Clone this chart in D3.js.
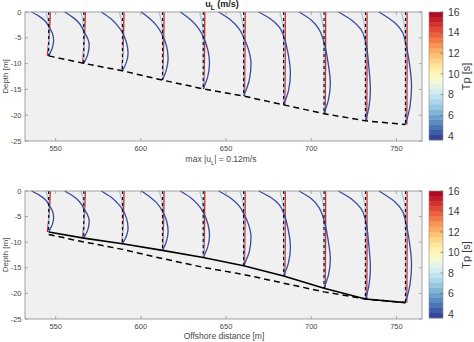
<!DOCTYPE html>
<html>
<head>
<meta charset="utf-8">
<script src="https://cdn.jsdelivr.net/npm/d3@7/dist/d3.min.js"></script>
<style>
  body { margin: 0; background: #fff; }
  svg { display: block; font-family: "Liberation Sans", Arial, sans-serif; }
</style>
</head>
<body>
<svg id="chart" width="474" height="342"></svg>
<script>
// Cross-shore stations (offshore distance, m)
const stations = [545.9, 566.5, 589.2, 612.7, 636.6, 660.3, 683.8, 707.5, 731.8, 755.3];
// Bed level at each station (m): initial profile and final profile
const bedInitial = [-8.5, -9.95, -11.4, -13.2, -14.9, -16.3, -18.0, -19.7, -21.1, -21.8];
const bedFinal = [-8.0, -9.2, -10.3, -11.6, -13.0, -14.6, -16.6, -19.0, -21.1, -21.8];

// Peak periods drawn at every station (s)
const tpValues = [15, 7, 4];

// Lagrangian velocity profiles: [fraction of local water depth, u_L (m/s)]
const uTp4 = [
  [[0, -0.076], [0.1, -0.042], [0.2, -0.017], [0.33, 0], [0.48, 0.016], [0.64, 0.022], [0.82, 0.016], [1, 0]],
  [[0, -0.085], [0.1, -0.05], [0.2, -0.024], [0.3, -0.008], [0.38, 0], [0.5, 0.016], [0.64, 0.024], [0.82, 0.018], [1, 0]],
  [[0, -0.094], [0.12, -0.05], [0.24, -0.02], [0.35, 0], [0.52, 0.018], [0.7, 0.025], [0.86, 0.017], [1, 0]],
  [[0, -0.094], [0.1, -0.056], [0.2, -0.026], [0.34, 0], [0.5, 0.018], [0.68, 0.025], [0.85, 0.017], [1, 0]],
  [[0, -0.102], [0.1, -0.056], [0.2, -0.024], [0.32, 0], [0.5, 0.021], [0.66, 0.028], [0.84, 0.02], [1, 0]],
  [[0, -0.111], [0.1, -0.055], [0.2, -0.02], [0.3, 0], [0.45, 0.022], [0.61, 0.033], [0.8, 0.026], [1, 0]],
  [[0, -0.111], [0.08, -0.055], [0.16, -0.02], [0.26, 0], [0.45, 0.02], [0.66, 0.03], [0.84, 0.022], [1, 0]],
  [[0, -0.111], [0.08, -0.056], [0.17, -0.022], [0.3, 0], [0.5, 0.018], [0.7, 0.028], [0.86, 0.02], [1, 0]],
  [[0, -0.12], [0.08, -0.058], [0.16, -0.02], [0.27, 0], [0.5, 0.015], [0.71, 0.022], [0.87, 0.016], [1, 0]],
  [[0, -0.118], [0.1, -0.045], [0.18, -0.013], [0.27, 0], [0.45, 0.017], [0.66, 0.027], [0.84, 0.02], [1, 0]]
];
const uTp7 = [
  [[0, -0.012], [0.12, -0.006], [0.25, -0.002], [0.35, 0], [1, 0]],
  [[0, -0.013], [0.12, -0.006], [0.25, -0.002], [0.35, 0], [1, 0]],
  [[0, -0.014], [0.1, -0.007], [0.22, -0.002], [0.32, 0], [1, 0]],
  [[0, -0.015], [0.1, -0.007], [0.2, -0.002], [0.3, 0], [1, 0]],
  [[0, -0.016], [0.1, -0.008], [0.2, -0.002], [0.28, 0], [1, 0]],
  [[0, -0.017], [0.08, -0.009], [0.18, -0.002], [0.26, 0], [1, 0]],
  [[0, -0.017], [0.08, -0.009], [0.16, -0.002], [0.24, 0], [1, 0]],
  [[0, -0.018], [0.08, -0.009], [0.16, -0.002], [0.24, 0], [1, 0]],
  [[0, -0.018], [0.07, -0.009], [0.15, -0.002], [0.22, 0], [1, 0]],
  [[0, -0.018], [0.07, -0.009], [0.15, -0.002], [0.22, 0], [1, 0]]
];
const uTp15 = [
  [[0, 0.007], [0.5, 0.003], [1, -0.006]],
  [[0, 0.007], [0.5, 0.003], [1, -0.005]],
  [[0, 0.007], [0.5, 0.004], [1, -0.002]],
  [[0, 0.007], [0.5, 0.005], [1, 0.0]],
  [[0, 0.007], [0.5, 0.006], [1, 0.002]],
  [[0, 0.007], [0.5, 0.006], [1, 0.004]],
  [[0, 0.007], [0.5, 0.007], [1, 0.005]],
  [[0, 0.007], [0.5, 0.007], [1, 0.005]],
  [[0, 0.007], [0.5, 0.007], [1, 0.006]],
  [[0, 0.007], [0.5, 0.007], [1, 0.006]]
];
const profilesByTp = { 15: uTp15, 7: uTp7, 4: uTp4 };

const xTicks = [550, 600, 650, 700, 750];
const yTicks = [0, -5, -10, -15, -20, -25];
const cbTicks = [4, 6, 8, 10, 12, 14, 16];
const tpRange = [3.6, 16];
const maxU = 0.12;

// Horizontal distance (m) plotted per 1 m/s of u_L
const uScale = 132;

const svg = d3.select("#chart");
const axisColor = "#8c8c8c";
const textColor = "#4a4a4a";

const x = d3.scaleLinear().domain([532, 765]).range([25, 422]);
const tpColor = tp => d3.interpolateRdYlBu(1 - (tp - tpRange[0]) / (tpRange[1] - tpRange[0]));

const panels = [
  { top: 12, bottom: 141, bed: bedInitial, final: false },
  { top: 191, bottom: 319, bed: bedFinal, final: true }
];

panels.forEach(p => {
  const y = d3.scaleLinear().domain([-25, 0]).range([p.bottom, p.top]);
  const g = svg.append("g");

  // plot area
  g.append("rect")
    .attr("x", x.range()[0]).attr("y", p.top)
    .attr("width", x.range()[1] - x.range()[0]).attr("height", p.bottom - p.top)
    .attr("fill", "#f0f0f0");

  // velocity profiles per station
  stations.forEach((st, i) => {
    const h = -p.bed[i];
    const line = d3.line()
      .x(d => x(st + uScale * d[1]))
      .y(d => y(-d[0] * h))
      .curve(d3.curveMonotoneY);
    tpValues.forEach(tp => {
      g.append("path")
        .attr("d", line(profilesByTp[tp][i]))
        .attr("fill", "none")
        .attr("stroke", tpColor(tp))
        .attr("stroke-width", 1.3);
    });
    // zero-velocity reference
    g.append("line")
      .attr("x1", x(st)).attr("x2", x(st))
      .attr("y1", y(0)).attr("y2", y(p.bed[i]))
      .attr("stroke", "#000").attr("stroke-width", 1.1)
      .attr("stroke-dasharray", "3,3");
  });

  // bed lines
  const bedLine = d3.line().x(d => x(d[0])).y(d => y(d[1]));
  g.append("path")
    .attr("d", bedLine(stations.map((s, i) => [s, bedInitial[i]])))
    .attr("fill", "none").attr("stroke", "#000")
    .attr("stroke-width", 1.5).attr("stroke-dasharray", "6,4");
  if (p.final) {
    g.append("path")
      .attr("d", bedLine(stations.map((s, i) => [s, bedFinal[i]])))
      .attr("fill", "none").attr("stroke", "#000")
      .attr("stroke-width", 1.6);
  }

  // axes box and ticks
  const [x0, x1] = x.range();
  g.append("rect")
    .attr("x", x0).attr("y", p.top)
    .attr("width", x1 - x0).attr("height", p.bottom - p.top)
    .attr("fill", "none").attr("stroke", axisColor).attr("stroke-width", 0.8);

  xTicks.forEach(t => {
    g.append("line").attr("x1", x(t)).attr("x2", x(t))
      .attr("y1", p.bottom).attr("y2", p.bottom - 3)
      .attr("stroke", axisColor).attr("stroke-width", 0.7);
    g.append("line").attr("x1", x(t)).attr("x2", x(t))
      .attr("y1", p.top).attr("y2", p.top + 3)
      .attr("stroke", axisColor).attr("stroke-width", 0.7);
    g.append("text").attr("x", x(t)).attr("y", p.bottom + 10.3)
      .attr("text-anchor", "middle").attr("font-size", 7.5)
      .attr("fill", textColor).text(t);
  });
  yTicks.forEach(t => {
    g.append("line").attr("x1", x0).attr("x2", x0 + 3)
      .attr("y1", y(t)).attr("y2", y(t))
      .attr("stroke", axisColor).attr("stroke-width", 0.7);
    g.append("line").attr("x1", x1).attr("x2", x1 - 3)
      .attr("y1", y(t)).attr("y2", y(t))
      .attr("stroke", axisColor).attr("stroke-width", 0.7);
    g.append("text").attr("x", 21.5).attr("y", y(t))
      .attr("dy", "0.35em")
      .attr("text-anchor", "end").attr("font-size", 7.5)
      .attr("fill", textColor).text(t);
  });

  g.append("text")
    .attr("transform", `translate(8,${(p.top + p.bottom) / 2}) rotate(-90)`)
    .attr("text-anchor", "middle").attr("font-size", 8)
    .attr("fill", textColor).text("Depth [m]");

  // colour bar
  const cb = { x: 429, w: 14 };
  const cy = d3.scaleLinear().domain(tpRange).range([p.bottom - 1, p.top]);
  const nBands = 25;
  const step = (tpRange[1] - tpRange[0]) / nBands;
  d3.range(nBands).forEach(k => {
    const lo = tpRange[0] + k * step, hi = lo + step;
    g.append("rect")
      .attr("x", cb.x).attr("y", cy(hi))
      .attr("width", cb.w).attr("height", cy(lo) - cy(hi) + 0.3)
      .attr("fill", tpColor((lo + hi) / 2));
  });
  g.append("rect")
    .attr("x", cb.x).attr("y", p.top)
    .attr("width", cb.w).attr("height", p.bottom - 1 - p.top)
    .attr("fill", "none").attr("stroke", axisColor).attr("stroke-width", 0.6);
  cbTicks.forEach(t => {
    g.append("line").attr("x1", cb.x + cb.w).attr("x2", cb.x + cb.w - 2.5)
      .attr("y1", cy(t)).attr("y2", cy(t))
      .attr("stroke", "#555").attr("stroke-width", 0.6);
    g.append("text").attr("x", cb.x + cb.w + 5).attr("y", cy(t))
      .attr("dy", "0.36em").attr("font-size", 10.5)
      .attr("fill", "#3a3a3a").text(t);
  });
  g.append("text")
    .attr("transform", `translate(470,${(p.top + p.bottom) / 2}) rotate(-90)`)
    .attr("text-anchor", "middle").attr("font-size", 11)
    .attr("fill", "#3a3a3a").text("Tp [s]");
});

// title
const title = svg.append("text")
  .attr("x", 222).attr("y", 7)
  .attr("text-anchor", "middle").attr("font-size", 9)
  .attr("font-weight", "bold").attr("fill", "#222");
title.append("tspan").text("u");
title.append("tspan").attr("dy", 2.5).attr("font-size", 6.5).text("L");
title.append("tspan").attr("dy", -2.5).text(" (m/s)");

// scale annotation
const note = svg.append("text")
  .attr("x", 221).attr("y", 162)
  .attr("text-anchor", "middle").attr("font-size", 8.5)
  .attr("fill", textColor);
note.append("tspan").text("max |u");
note.append("tspan").attr("dy", 2.5).attr("font-size", 6).text("L");
note.append("tspan").attr("dy", -2.5).text(`| = ${maxU}m/s`);

svg.append("text")
  .attr("x", 224).attr("y", 339)
  .attr("text-anchor", "middle").attr("font-size", 8.5)
  .attr("fill", textColor).text("Offshore distance [m]");
</script>
</body>
</html>
